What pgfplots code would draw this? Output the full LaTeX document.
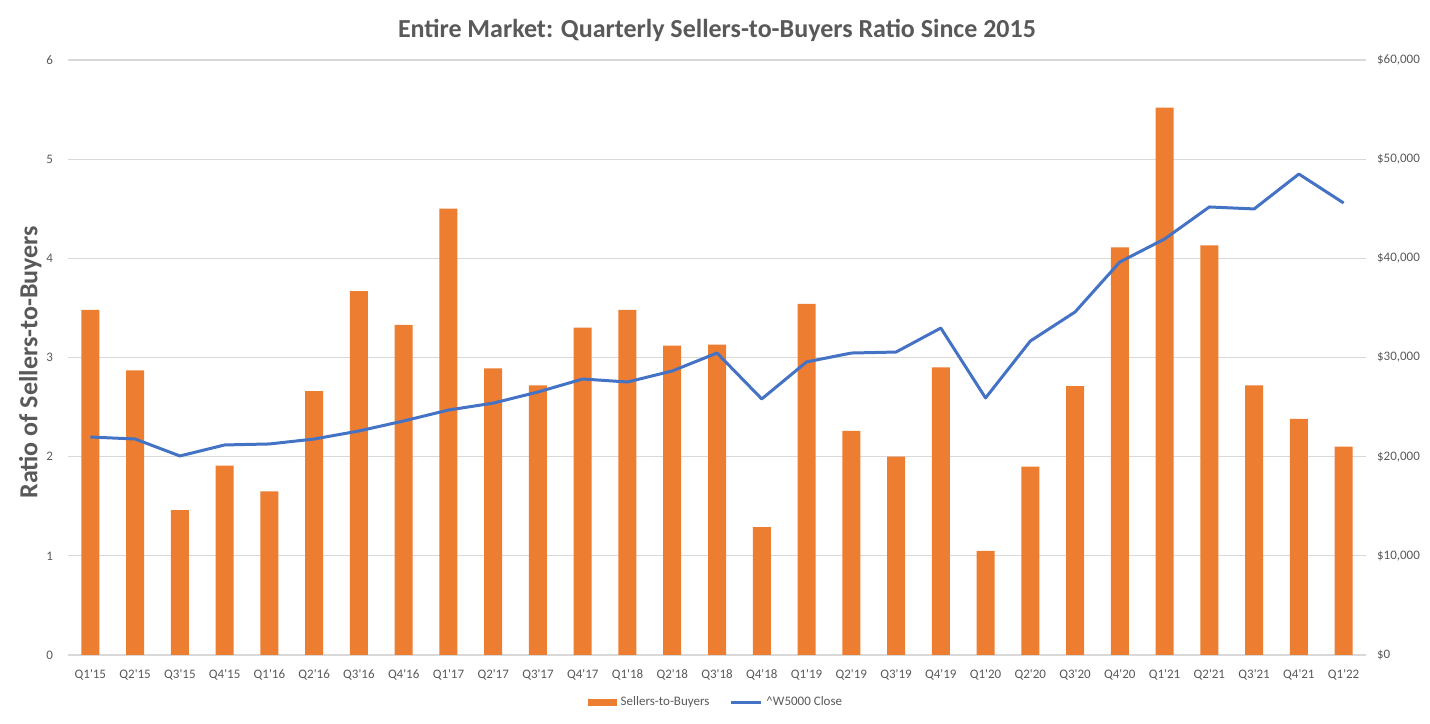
\documentclass[border=0pt]{standalone}
\usepackage{pgfplots}
\pgfplotsset{compat=1.18}
\usepackage{pgfplotstable}
\usepackage{fontspec}
\setmainfont{Carlito}
\definecolor{barorange}{HTML}{ED7D31}
\definecolor{lineblue}{HTML}{4472C4}
\definecolor{txtgray}{HTML}{595959}
\definecolor{gridgray}{HTML}{D9D9D9}
\newcommand{\q}{\textquotesingle}

\pgfplotstableread{
x r w
0 3.48 21980
1 2.87 21780
2 1.46 20070
3 1.91 21180
4 1.65 21280
5 2.66 21780
6 3.67 22590
7 3.33 23600
8 4.50 24700
9 2.89 25400
10 2.72 26520
11 3.30 27830
12 3.48 27530
13 3.12 28640
14 3.13 30450
15 1.29 25820
16 3.54 29550
17 2.26 30450
18 2.00 30550
19 2.90 32970
20 1.05 25920
21 1.90 31660
22 2.71 34590
23 4.11 39630
24 5.52 41950
25 4.13 45180
26 2.72 44980
27 2.38 48500
28 2.10 45580
}\datatable

\pgfplotsset{
  base/.style={
    width=649pt, height=297.5pt, scale only axis,
    xmin=-0.5, xmax=28.5,
    tick style={draw=none},
    scaled y ticks=false,
    /pgf/number format/assume math mode=true,
    tick label style={font=\fontsize{6.5}{7.5}\selectfont, text=txtgray},
  }
}

\begin{document}
\begin{tikzpicture}
\begin{axis}[base, name=ax,
  ymin=0, ymax=6, ytick={0,1,2,3,4,5,6},
  axis line style={draw=none},
  ymajorgrids, grid style={gridgray, line width=0.6pt},
  xtick={0,...,28},
  xticklabels={Q1\q15,Q2\q15,Q3\q15,Q4\q15,Q1\q16,Q2\q16,Q3\q16,Q4\q16,Q1\q17,Q2\q17,Q3\q17,Q4\q17,Q1\q18,Q2\q18,Q3\q18,Q4\q18,Q1\q19,Q2\q19,Q3\q19,Q4\q19,Q1\q20,Q2\q20,Q3\q20,Q4\q20,Q1\q21,Q2\q21,Q3\q21,Q4\q21,Q1\q22},
  xticklabel style={yshift=-4pt},
  yticklabel style={xshift=-4pt},
  title={Entire Market: Quarterly Sellers-to-Buyers Ratio Since 2015},
  title style={font=\bfseries\fontsize{13}{15}\selectfont, text=txtgray, at={(axis description cs:0.5,1)}, anchor=base, yshift=5pt},
  ylabel={Ratio of Sellers-to-Buyers},
  ylabel style={font=\bfseries\fontsize{13}{15}\selectfont, text=txtgray, at={(axis description cs:-0.029,0.492)}, anchor=center},
]
\addplot[ybar, bar width=9pt, fill=barorange, draw=none] table[x=x, y=r]{\datatable};
\end{axis}
\begin{axis}[base,
  axis x line=none, axis y line*=right,
  y axis line style={draw=none},
  ymin=0, ymax=60000,
  ytick={0,10000,20000,30000,40000,50000,60000},
  yticklabels={{\$0},{\$10,000},{\$20,000},{\$30,000},{\$40,000},{\$50,000},{\$60,000}},
  yticklabel style={anchor=west, xshift=2pt},
  legend columns=2,
  legend style={draw=none, fill=none, at={(axis description cs:0.5,-0.08)}, anchor=center,
    font=\fontsize{6.5}{7.5}\selectfont, text=txtgray,
    /tikz/every even column/.append style={column sep=8pt}},
]
\addlegendimage{legend image code/.code={\fill[barorange] (0pt,-1.5pt) rectangle (14pt,1.5pt);}}
\addlegendentry{Sellers-to-Buyers}
\addplot[lineblue, line width=1.5pt, line join=round, no markers,
  legend image code/.code={\draw[lineblue, line width=1.5pt] (0pt,0pt) -- (15pt,0pt);}] table[x=x, y=w]{\datatable};
\addlegendentry{\textasciicircum W5000 Close}
\end{axis}
\pgfresetboundingbox
\path[use as bounding box] ([shift={(-34pt,-34.5pt)}]ax.south west) rectangle ([shift={(32pt,30pt)}]ax.north east);
\end{tikzpicture}
\end{document}
